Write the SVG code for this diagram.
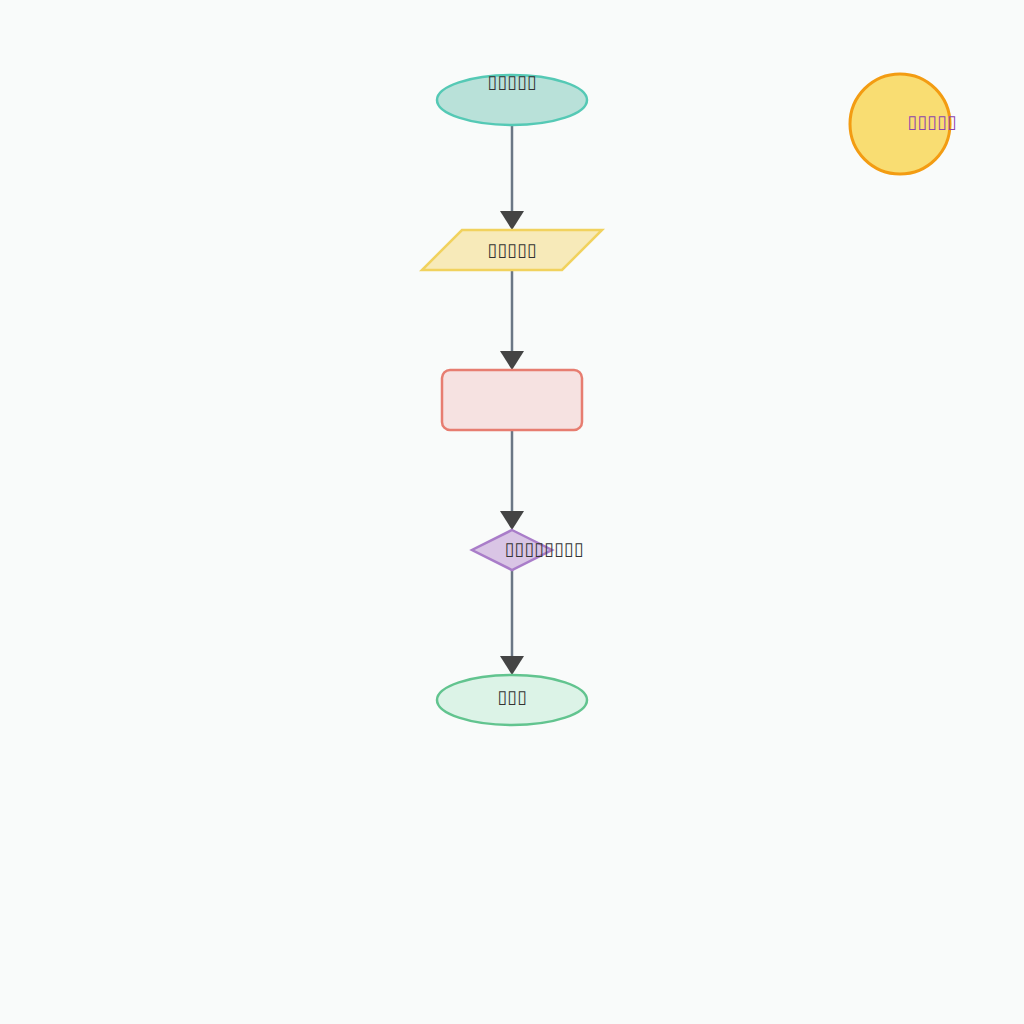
<svg xmlns="http://www.w3.org/2000/svg" width="1024" height="1024" viewBox="0 0 1024 1024">
<defs>
<style>
.lbl{font-family:"DejaVu Sans",sans-serif;font-size:18px;fill:#333;text-anchor:middle}
.edge{stroke:#6b7785;stroke-width:2.5;fill:none}
.head{fill:#444}
</style>
</defs>
<rect width="1024" height="1024" fill="#f9fbfa"/>
<g id="connectors">
<line class="edge" x1="512" y1="125" x2="512" y2="214"/>
<polygon class="head" points="500,211 524,211 512,230"/>
<line class="edge" x1="512" y1="270" x2="512" y2="354"/>
<polygon class="head" points="500,351 524,351 512,370"/>
<line class="edge" x1="512" y1="430" x2="512" y2="514"/>
<polygon class="head" points="500,511 524,511 512,530"/>
<line class="edge" x1="512" y1="570" x2="512" y2="659"/>
<polygon class="head" points="500,656 524,656 512,675"/>
</g>
<g id="start">
<ellipse cx="512" cy="100" rx="75" ry="25" fill="#b9e1d9" stroke="#55c9b5" stroke-width="2.5"/>
<text class="lbl" x="512" y="88">▯▯▯▯▯</text>
</g>
<g id="input">
<polygon points="462,230 602,230 562,270 422,270" fill="#f7eab9" stroke="#f1d25e" stroke-width="2.5"/>
<text class="lbl" x="512" y="256">▯▯▯▯▯</text>
</g>
<g id="process">
<rect x="442" y="370" width="140" height="60" rx="8" fill="#f6e2e1" stroke="#e77d70" stroke-width="2.5"/>
</g>
<g id="decision">
<polygon points="512,530 552,550 512,570 472,550" fill="#d9c5e5" stroke="#a97dc9" stroke-width="2.5"/>
<text class="lbl" x="544" y="555">▯▯▯▯▯▯▯▯</text>
</g>
<g id="end">
<ellipse cx="512" cy="700" rx="75" ry="25" fill="#dcf3e7" stroke="#62c48f" stroke-width="2.5"/>
<text class="lbl" x="512" y="703">▯▯▯</text>
</g>
<g id="note">
<circle cx="900" cy="124" r="50" fill="#f9dd72" stroke="#f39c12" stroke-width="3"/>
<text class="lbl" x="932" y="128" style="fill:#8e44ad">▯▯▯▯▯</text>
</g>
</svg>
